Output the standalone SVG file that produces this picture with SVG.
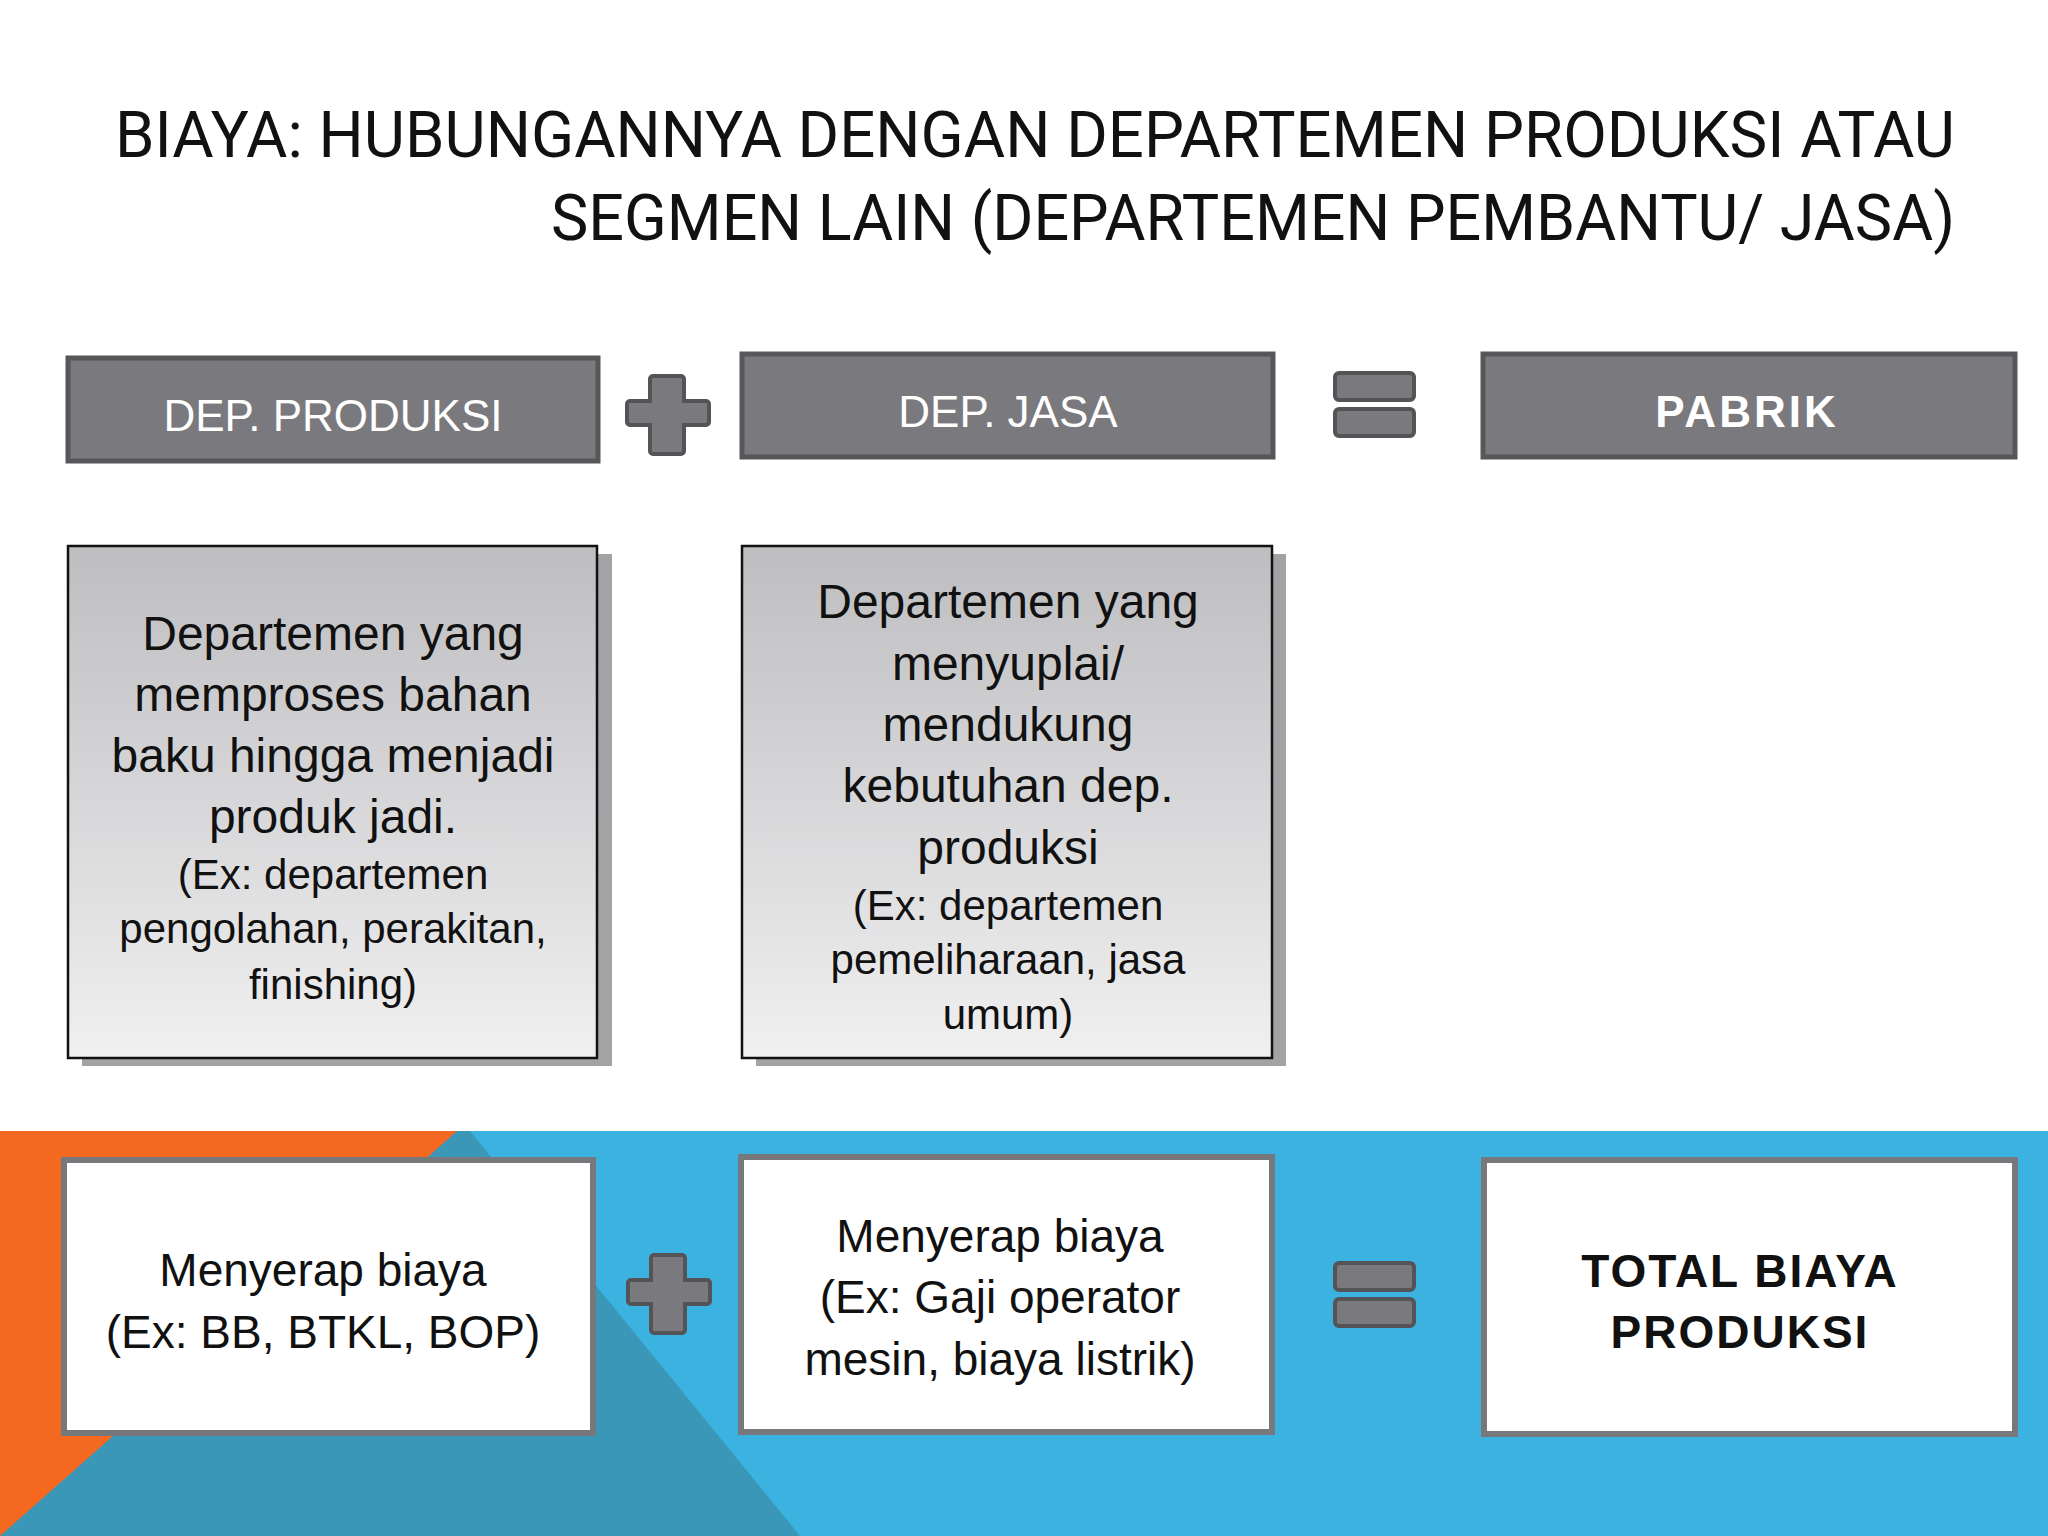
<svg xmlns="http://www.w3.org/2000/svg" width="2048" height="1536" viewBox="0 0 2048 1536">
<defs>
<linearGradient id="gbox" x1="0" y1="0" x2="0" y2="1">
<stop offset="0" stop-color="#bebec1"/>
<stop offset="1" stop-color="#f0f0f1"/>
</linearGradient>
<style>
.hdr{fill:#7a7a7e;stroke:#57575a;stroke-width:5}
.op{fill:#7a7a7e;stroke:#545457;stroke-width:4}
.htxt{font-family:"Liberation Sans",Arial,sans-serif;font-size:44px;fill:#ffffff;text-anchor:middle}
.title{font-family:Roboto,"Liberation Sans",sans-serif;font-size:64px;fill:#111111;text-anchor:end}
.desc{fill:url(#gbox);stroke:#111111;stroke-width:2.5}
.shadow{fill:#a3a3a6}
.dt{font-family:"Liberation Sans",Arial,sans-serif;font-size:48px;fill:#111111;text-anchor:middle}
.ds{font-family:"Liberation Sans",Arial,sans-serif;font-size:42px;fill:#111111;text-anchor:middle}
.wb{fill:#ffffff;stroke:#77787b;stroke-width:6}
.bt{font-family:"Liberation Sans",Arial,sans-serif;font-size:46px;fill:#111111;text-anchor:middle}
</style>
</defs>
<rect x="0" y="0" width="2048" height="1536" fill="#ffffff"/>

<!-- bottom background band -->
<g id="background">
<rect x="0" y="1131" width="2048" height="405" fill="#3bb2df"/>
<polygon points="0,1131 470,1131 800,1536 0,1536" fill="#3b97b8"/>
<polygon points="0,1131 457,1131 0,1536" fill="#f4691f"/>
</g>

<!-- title -->
<g id="title">
<text class="title" x="1955" y="157" textLength="1840" lengthAdjust="spacingAndGlyphs">BIAYA: HUBUNGANNYA DENGAN DEPARTEMEN PRODUKSI ATAU</text>
<text class="title" x="1955" y="240" textLength="1404" lengthAdjust="spacingAndGlyphs">SEGMEN LAIN (DEPARTEMEN PEMBANTU/ JASA)</text>
</g>

<!-- top header row -->
<g id="dep-produksi">
<rect class="hdr" x="68" y="358" width="530" height="103"/>
<text class="htxt" x="333" y="431">DEP. PRODUKSI</text>
</g>
<g id="plus-top">
<path class="op" d="M653,376 h28 a3,3 0 0 1 3,3 v22 h22 a3,3 0 0 1 3,3 v18 a3,3 0 0 1 -3,3 h-22 v26 a3,3 0 0 1 -3,3 h-28 a3,3 0 0 1 -3,-3 v-26 h-20 a3,3 0 0 1 -3,-3 v-18 a3,3 0 0 1 3,-3 h20 v-22 a3,3 0 0 1 3,-3 z"/>
</g>
<g id="dep-jasa">
<rect class="hdr" x="742" y="354" width="531" height="103"/>
<text class="htxt" x="1008" y="427">DEP. JASA</text>
</g>
<g id="equals-top">
<rect class="op" x="1335" y="373" width="79" height="27" rx="4"/>
<rect class="op" x="1335" y="409" width="79" height="27" rx="4"/>
</g>
<g id="pabrik">
<rect class="hdr" x="1483" y="354" width="532" height="103"/>
<text class="htxt" x="1747" y="427" font-weight="bold" letter-spacing="3">PABRIK</text>
</g>

<!-- description boxes -->
<g id="desc-produksi">
<rect class="shadow" x="82" y="554" width="530" height="512"/>
<rect class="desc" x="68" y="546" width="529" height="512"/>
<text class="dt" x="333" y="650">Departemen yang</text>
<text class="dt" x="333" y="711">memproses bahan</text>
<text class="dt" x="333" y="772">baku hingga menjadi</text>
<text class="dt" x="333" y="833">produk jadi.</text>
<text class="ds" x="333" y="889">(Ex: departemen</text>
<text class="ds" x="333" y="943">pengolahan, perakitan,</text>
<text class="ds" x="333" y="999">finishing)</text>
</g>
<g id="desc-jasa">
<rect class="shadow" x="756" y="554" width="530" height="512"/>
<rect class="desc" x="742" y="546" width="530" height="512"/>
<text class="dt" x="1008" y="618">Departemen yang</text>
<text class="dt" x="1008" y="680">menyuplai/</text>
<text class="dt" x="1008" y="741">mendukung</text>
<text class="dt" x="1008" y="802">kebutuhan dep.</text>
<text class="dt" x="1008" y="864">produksi</text>
<text class="ds" x="1008" y="920">(Ex: departemen</text>
<text class="ds" x="1008" y="974">pemeliharaan, jasa</text>
<text class="ds" x="1008" y="1029">umum)</text>
</g>

<!-- bottom row -->
<g id="biaya-produksi">
<rect class="wb" x="64" y="1160" width="529" height="273"/>
<text class="bt" x="323" y="1286">Menyerap biaya</text>
<text class="bt" x="323" y="1348">(Ex: BB, BTKL, BOP)</text>
</g>
<g id="plus-bottom">
<path class="op" d="M654,1255 h28 a3,3 0 0 1 3,3 v22 h22 a3,3 0 0 1 3,3 v18 a3,3 0 0 1 -3,3 h-22 v26 a3,3 0 0 1 -3,3 h-28 a3,3 0 0 1 -3,-3 v-26 h-20 a3,3 0 0 1 -3,-3 v-18 a3,3 0 0 1 3,-3 h20 v-22 a3,3 0 0 1 3,-3 z"/>
</g>
<g id="biaya-jasa">
<rect class="wb" x="741" y="1157" width="531" height="275"/>
<text class="bt" x="1000" y="1252">Menyerap biaya</text>
<text class="bt" x="1000" y="1313">(Ex: Gaji operator</text>
<text class="bt" x="1000" y="1375">mesin, biaya listrik)</text>
</g>
<g id="equals-bottom">
<rect class="op" x="1335" y="1263" width="79" height="27" rx="4"/>
<rect class="op" x="1335" y="1299" width="79" height="27" rx="4"/>
</g>
<g id="total-biaya">
<rect class="wb" x="1484" y="1160" width="531" height="274"/>
<text class="bt" x="1740" y="1287" font-weight="bold" letter-spacing="2">TOTAL BIAYA</text>
<text class="bt" x="1740" y="1348" font-weight="bold" letter-spacing="2">PRODUKSI</text>
</g>

<g id="connectors"></g>
</svg>
